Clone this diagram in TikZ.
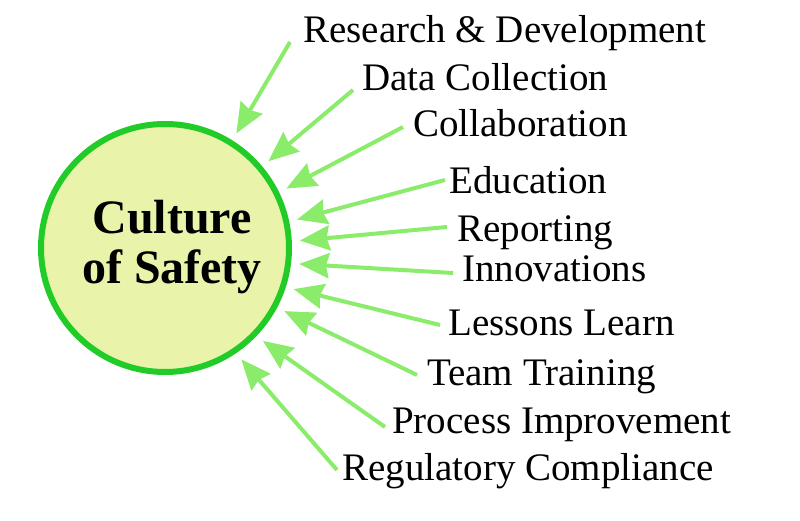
\documentclass[tikz,border=0pt]{standalone}
\usepackage{fontspec}
\setmainfont{Liberation Serif}[BoldFont={Liberation Serif Bold}]
\usetikzlibrary{arrows.meta}
\definecolor{ringgreen}{RGB}{34,204,40}
\definecolor{ringfill}{RGB}{233,244,170}
\definecolor{arrowgreen}{RGB}{138,236,106}

\begin{document}
\begin{tikzpicture}[x=1pt,y=-1pt,
  main node/.style={circle,draw=ringgreen,fill=ringfill,line width=6pt,inner sep=0pt,
    minimum size=248pt},
  title node/.style={align=center,inner sep=0pt,font=\fontsize{48}{50}\selectfont\bfseries},
  item node/.style={anchor=base west,inner sep=0pt,font=\fontsize{39}{40}\selectfont},
  feed/.style={color=arrowgreen,line width=4pt,shorten >=8pt,
    -{Stealth[length=30pt,width=25pt,inset=3pt]}}]

  \useasboundingbox (0,0) rectangle (800,521);

  \node[main node] (safety) at (165,248) {};
  \node[title node] (title) at (172,247) {Culture\\of Safety};

  \node[item node] (rd) at (303,43) {Research \& Development};
  \node[item node] (data) at (362,91) {Data Collection};
  \node[item node] (collab) at (413,137) {Collaboration};
  \node[item node] (edu) at (449,194) {Education};
  \node[item node] (report) at (457,242) {Reporting};
  \node[item node] (innov) at (462,282) {Innovations};
  \node[item node] (lessons) at (448,335) {Lessons Learn};
  \node[item node] (team) at (427,385) {Team Training};
  \node[item node] (process) at (392,433) {Process Improvement};
  \node[item node] (reg) at (342,480) {Regulatory Compliance};

  % tails of the arrows, just left of each label
  \coordinate (rd tail) at (290,42);
  \coordinate (data tail) at (353,90);
  \coordinate (collab tail) at (403,127);
  \coordinate (edu tail) at (445,180);
  \coordinate (report tail) at (447,227);
  \coordinate (innov tail) at (453,273);
  \coordinate (lessons tail) at (440,325);
  \coordinate (team tail) at (417,375);
  \coordinate (process tail) at (385,427);
  \coordinate (reg tail) at (337,470);

  \draw[feed] (rd tail) -- (safety.58);
  \draw[feed] (data tail) -- (safety.40);
  \draw[feed] (collab tail) -- (safety.26);
  \draw[feed] (edu tail) -- (safety.12);
  \draw[feed] (report tail) -- (safety.3);
  \draw[feed] (innov tail) -- (safety.-7);
  \draw[feed] (lessons tail) -- (safety.-18);
  \draw[feed] (team tail) -- (safety.-28);
  \draw[feed] (process tail) -- (safety.-44);
  \draw[feed] (reg tail) -- (safety.-56);

\end{tikzpicture}
\end{document}
